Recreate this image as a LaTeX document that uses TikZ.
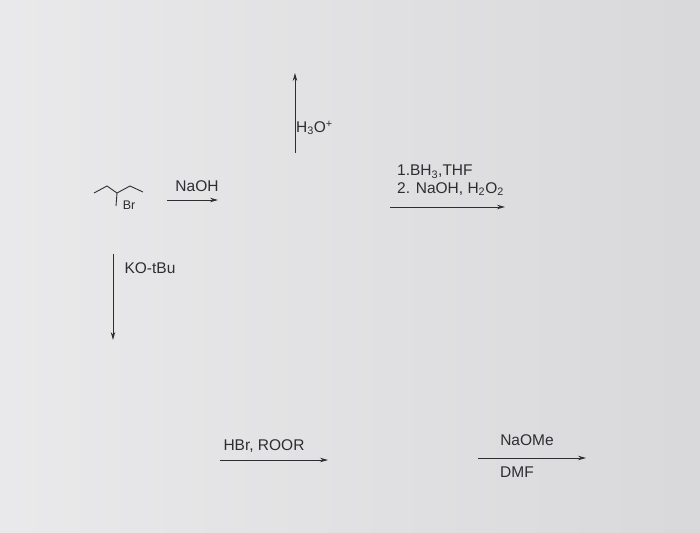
\documentclass[tikz,border=0pt]{standalone}
\usepackage{fontspec}
\setmainfont{Liberation Sans}
\usetikzlibrary{arrows.meta}
\definecolor{bg}{HTML}{E4E4E6}
\definecolor{ink}{HTML}{2E2E32}
\newcommand{\sbs}[1]{\textsubscript{#1}}
\newcommand{\sps}[1]{\textsuperscript{#1}}
\tikzset{rx/.style={draw=ink,line width=0.9pt,-{Stealth[length=8pt,width=4.5pt]}},
lab/.style={text=ink,font=\fontsize{15.5}{17}\selectfont,inner sep=1pt},
bond/.style={draw=ink,line width=0.9pt}}
\begin{document}
\begin{tikzpicture}[x=1pt,y=-1pt]
\shade[left color=bg!80!white,right color=bg!95!black] (0,0) rectangle (700,532);
\useasboundingbox (0,0) rectangle (700,532);
% molecule
\coordinate (m1) at (94,193); \coordinate (m2) at (107,186); \coordinate (m3) at (117,193);
\coordinate (m4) at (130,186); \coordinate (m5) at (143,192); \coordinate (m6) at (116,206);
\draw[bond] (m1)--(m2)--(m3)--(m4)--(m5); \draw[bond] (m3)--(m6);
\node[lab,font=\fontsize{12.5}{13}\selectfont] (br) at (129,205) {Br};
% NaOH
\coordinate (a1) at (167,200); \coordinate (a2) at (218,200);
\draw[rx] (a1)--(a2); \node[lab] (naoh) at (197,186) {NaOH};
% H3O+
\coordinate (b1) at (295,153); \coordinate (b2) at (295,73);
\draw[rx] (b1)--(b2); \node[lab,anchor=west] (h3o) at (295,128) {H\sbs{3}O\sps{+}};
% hydroboration
\coordinate (c1) at (390,207); \coordinate (c2) at (505,207);
\draw[rx] (c1)--(c2);
\node[lab,anchor=west] (hb1) at (396,172) {1.BH\sbs{3},THF};
\node[lab,anchor=west] (hb2) at (396,189) {2. NaOH, H\sbs{2}O\sbs{2}};
% KOtBu
\coordinate (d1) at (113,254); \coordinate (d2) at (113,340);
\draw[rx] (d1)--(d2); \node[lab] (kot) at (150,268) {KO-tBu};
% HBr
\coordinate (e1) at (220,460); \coordinate (e2) at (328,460);
\draw[rx] (e1)--(e2); \node[lab] (hbr) at (264,446) {HBr, ROOR};
% NaOMe
\coordinate (f1) at (478,458); \coordinate (f2) at (586,458);
\draw[rx] (f1)--(f2); \node[lab] (nao) at (527,440) {NaOMe};
\node[lab] (dmf) at (517,472) {DMF};
\end{tikzpicture}
\end{document}
